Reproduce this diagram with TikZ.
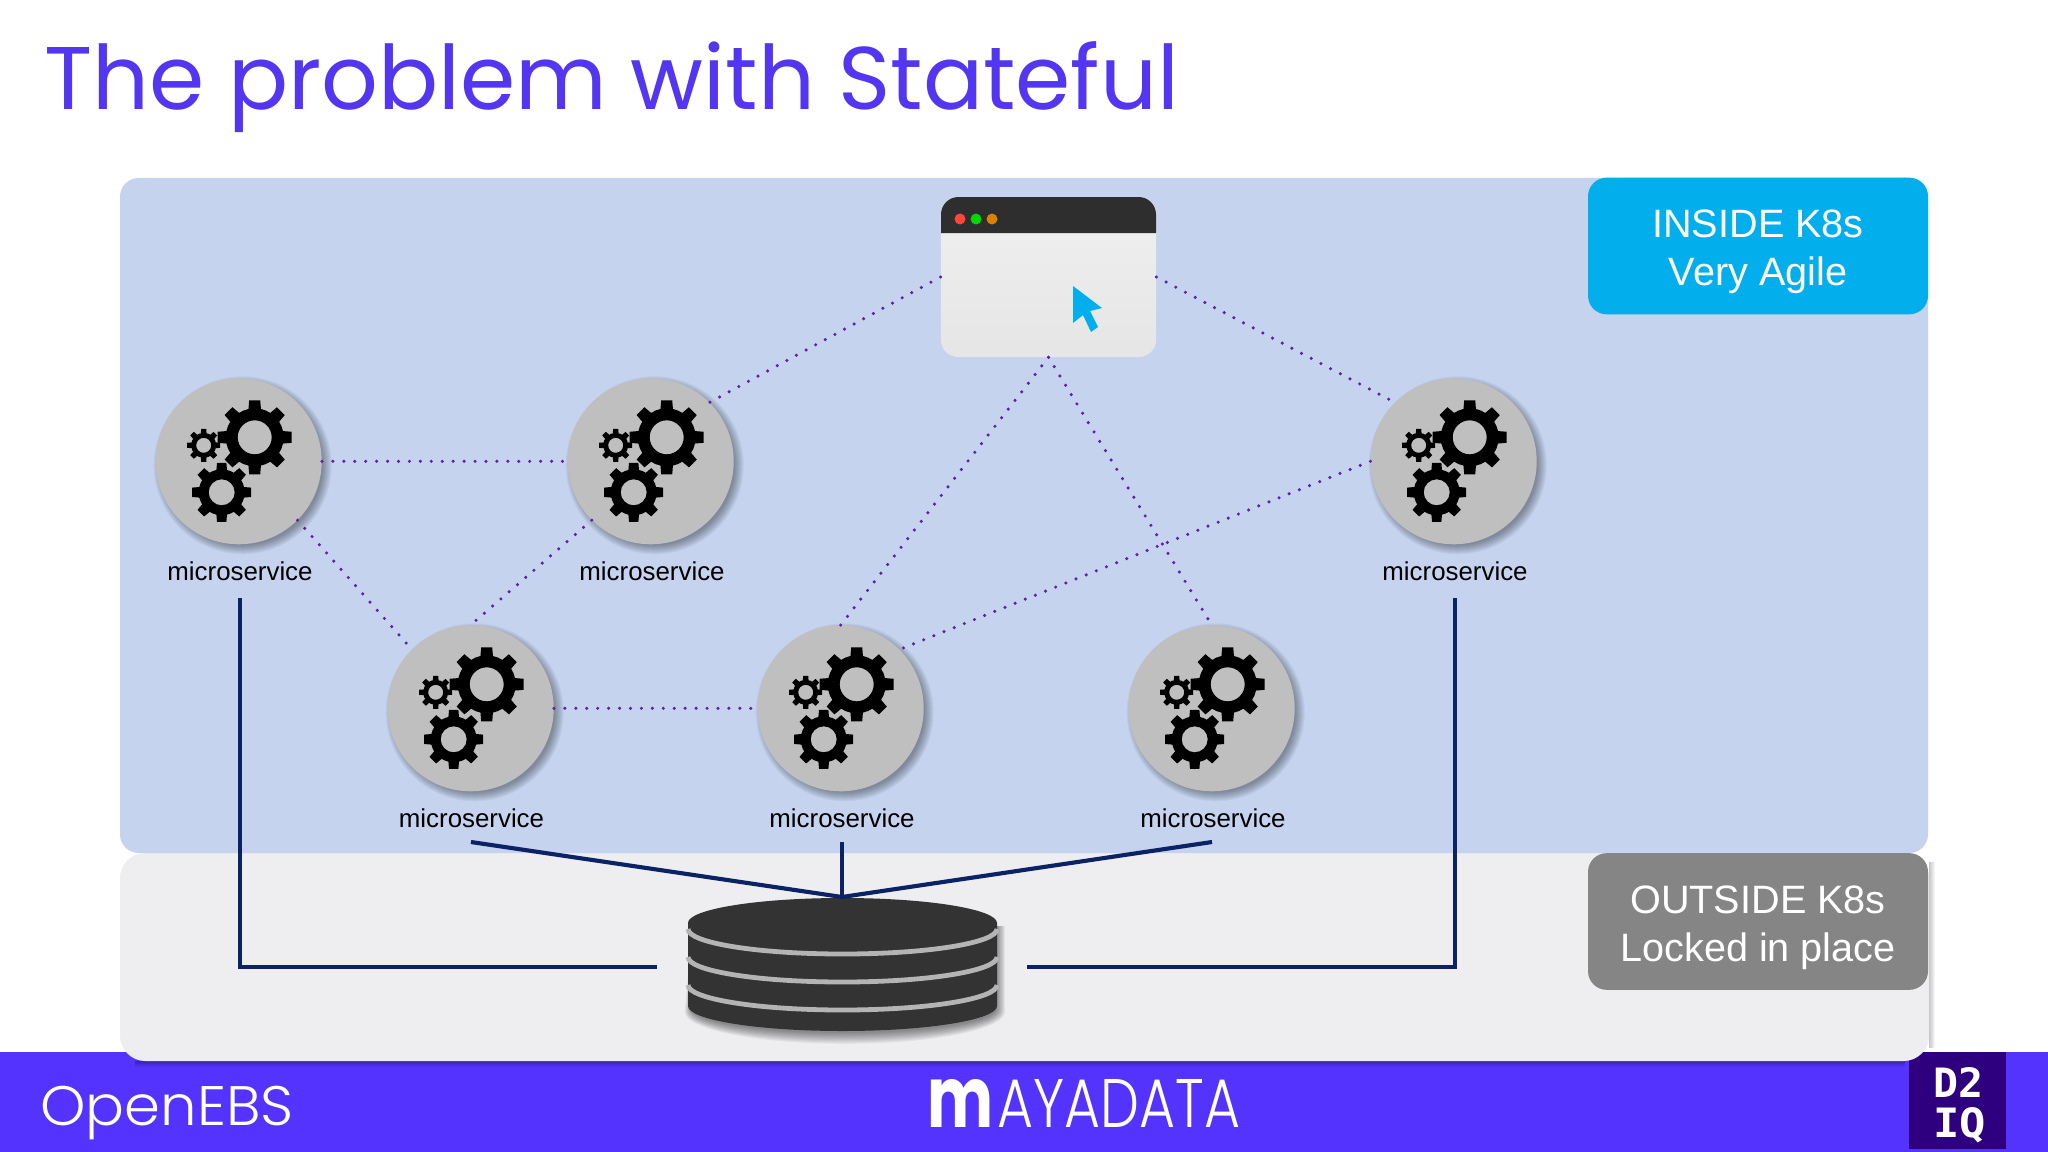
\documentclass[tikz,border=0pt]{standalone}
\usepackage{fontspec}
\usepackage{graphicx}
\setmainfont{Liberation Sans}
\newfontfamily\titlefont{Poppins}
\newfontfamily\logofont{Poppins Light}
\newfontfamily\logobold{Poppins Bold}
\newfontfamily\monobold{DejaVu Sans Mono Bold}
\definecolor{brand}{HTML}{5533FF}
\definecolor{titlecol}{HTML}{5236F2}
\definecolor{bluepanel}{HTML}{C5D3EE}
\definecolor{graypanel}{HTML}{EEEEF0}
\definecolor{insidecol}{HTML}{02AEEC}
\definecolor{outsidecol}{HTML}{858585}
\definecolor{svcgray}{HTML}{BFBFBF}
\definecolor{navy}{HTML}{0B2265}
\definecolor{dotcol}{HTML}{5A249E}
\definecolor{darkbar}{HTML}{2E2E2E}
\definecolor{dbdark}{HTML}{333333}
\definecolor{dbrim}{HTML}{B4B4B4}
\definecolor{iqbox}{HTML}{2E0080}
\newcommand\mygear[7]{%
  \begin{scope}[shift={(#1,#2)}]
    \fill[black,even odd rule] (0,0) circle[radius=#3] (0,0) circle[radius=#4];
    \foreach \a in {0,45,...,315}{
      \fill[black,rotate=\a] (-#6,#7) -- (-#6*0.85,#5) -- (#6*0.85,#5) -- (#6,#7) -- cycle;
    }
  \end{scope}}
\newcommand\softshadow[3]{%
  \foreach \d in {0,1,...,9}{
    \fill[black,opacity=0.04] (#1+4,#2+4) circle[radius=#3+6-\d];
  }}
\tikzset{
  x=0.75pt,y=-0.75pt,
  svc/.style={circle,fill=svcgray,minimum size=124.5pt,inner sep=0pt},
  svclabel/.style={inner sep=0pt,font=\fontsize{19.4}{23}\selectfont,text=black},
  dotline/.style={draw=dotcol,line width=2.6pt,line cap=round,dash pattern=on 0pt off 8.2pt},
  dbline/.style={draw=navy,line width=3.1pt},
  tagbox/.style={rounded corners=14pt,minimum width=255pt,minimum height=102.5pt,inner sep=0pt,text=white,align=center,font=\fontsize{29.7}{36}\selectfont},
  pics/gears/.style={code={
    \mygear{16}{-24}{29}{17}{37}{6.5}{25}
    \mygear{-17}{31}{23}{13}{29.5}{5.5}{20}
    \mygear{-35}{-16}{12.5}{7.5}{16.5}{3}{10}
  }}
}
\begin{document}
\begin{tikzpicture}
\useasboundingbox (0,0) rectangle (2048,1152);
\fill[white] (0,0) rectangle (2048,1152);
% footer
\fill[brand] (0,1052) rectangle (2048,1152);
\fill[iqbox] (1909,1052) rectangle (2006,1149);
% panels
\foreach \d in {1,...,6}{
  \fill[black,opacity=0.04] (1929,862) rectangle (1929+\d,1048);
  \fill[black,opacity=0.05] (135,1061) rectangle (1905,1061+\d);
}
\fill[graypanel,rounded corners=19pt] (120,853) rectangle (1929,1061);
\fill[bluepanel,rounded corners=14pt] (120,178) rectangle (1928,853);
% title
\node[anchor=base west,inner sep=0pt,text=titlecol,font=\titlefont\fontsize{66.7}{80}\selectfont] (title) at (44,110) {The problem with Stateful};
% tags
\node[tagbox,fill=insidecol] (inside) at (1758,246) {\rule{0pt}{30pt}INSIDE K8s\\Very Agile};
\node[tagbox,fill=outsidecol] (outside) at (1758,921.5) {\rule{0pt}{30pt}OUTSIDE K8s\\Locked in place};
% shadows of services
\softshadow{238.7}{461.3}{83}
\softshadow{650.7}{461.3}{83}
\softshadow{1453.7}{461.3}{83}
\softshadow{470.7}{708.3}{83}
\softshadow{840.7}{708.3}{83}
\softshadow{1211.7}{708.3}{83}
% services
\node[svc] (m1) at (238.7,461.3) {};
\node[svc] (m2) at (650.7,461.3) {};
\node[svc] (m3) at (1453.7,461.3) {};
\node[svc] (m4) at (470.7,708.3) {};
\node[svc] (m5) at (840.7,708.3) {};
\node[svc] (m6) at (1211.7,708.3) {};
\foreach \n in {m1,m2,m3,m4,m5,m6}{ \pic at (\n) {gears}; }
\node[svclabel] (l1) at (240,571) {microservice};
\node[svclabel] (l2) at (652,571) {microservice};
\node[svclabel] (l3) at (1455,571) {microservice};
\node[svclabel] (l4) at (471.5,818) {microservice};
\node[svclabel] (l5) at (842,818) {microservice};
\node[svclabel] (l6) at (1213,818) {microservice};
% window
\node[rounded corners=13pt,top color=black!6,bottom color=black!10,minimum width=161.5pt,minimum height=120pt,inner sep=0pt] (win) at (1048.5,277) {};
\fill[darkbar] (941,233) [rounded corners=13pt] -- (941,197) -- (1156,197) [sharp corners] -- (1156,233) -- cycle;
\fill[red!75!white!90!orange] (960,219) circle[radius=5.5];
\fill[green!85!black] (976,219) circle[radius=5.5];
\fill[orange!80!yellow!85!black] (992,219) circle[radius=5.5];
\fill[insidecol] (1073,286) -- (1102,308) -- (1090,311) -- (1098,327) -- (1091,332) -- (1083,315) -- (1073,323) -- cycle;
% dotted connectors
\draw[dotline] (m1.east) -- (m2.west);
\draw[dotline] (m1.-45) -- (m4.135);
\draw[dotline] (m2.225) -- (m4.north);
\draw[dotline] (win.west) -- (m2.45);
\draw[dotline] (win.east) -- (m3.135);
\draw[dotline] (win.south) -- (m5.north);
\draw[dotline] (win.south) -- (m6.north);
\draw[dotline] (m3.west) -- (m5.45);
\draw[dotline] (m4.east) -- (m5.west);
% database
\foreach \d in {0,1,...,9}{
  \fill[black,opacity=0.05] (692,926) -- (996+\d,926) -- (996+\d,1009+\d*0.3) arc[start angle=0,end angle=180,x radius=152+\d*0.9,y radius=24+\d*0.9] -- cycle;
}
\node[inner sep=0pt,minimum width=231pt,minimum height=100pt] (db) at (842.5,965) {};
\fill[dbdark] (688,923) -- (997,923) -- (997,1006) arc[start angle=0,end angle=180,x radius=154.5,y radius=25] -- cycle;
\foreach \c in {929,957,985}{
  \draw[dbrim,line width=3.6pt] (688,\c) arc[start angle=180,end angle=0,x radius=154.5,y radius=25];
}
\fill[dbdark] (842.5,923) ellipse[x radius=154.5,y radius=25];
% solid connectors
\coordinate (a1) at (240,598);
\coordinate (a2) at (1455,598);
\coordinate (b1) at (657,967);
\coordinate (b2) at (1027,967);
\coordinate (c4) at (471,842);
\coordinate (c5) at (842,842);
\coordinate (c6) at (1212,842);
\coordinate (hub) at (842,897);
\draw[dbline] (a1) |- (b1);
\draw[dbline] (a2) |- (b2);
\draw[dbline] (c4) -- (hub);
\draw[dbline] (c5) -- (hub);
\draw[dbline] (c6) -- (hub);
% logos
\node[anchor=base west,inner sep=0pt,text=white] (openebs) at (40,1125) {\resizebox{190pt}{29.5pt}{\logofont OpenEBS}};
\node[anchor=base west,inner sep=0pt,text=white] (maya) at (927,1127) {\resizebox{49.5pt}{36pt}{\logobold m}\hspace{3pt}\resizebox{182pt}{36pt}{\logofont AYADATA}};
\node[anchor=base west,inner sep=0pt,text=white] (d2) at (1933,1097) {\resizebox{37.5pt}{22.5pt}{\monobold D2}};
\node[anchor=base west,inner sep=0pt,text=white] (iq) at (1933,1137) {\resizebox{39.5pt}{22.5pt}{\monobold IQ}};
\end{tikzpicture}
\end{document}
